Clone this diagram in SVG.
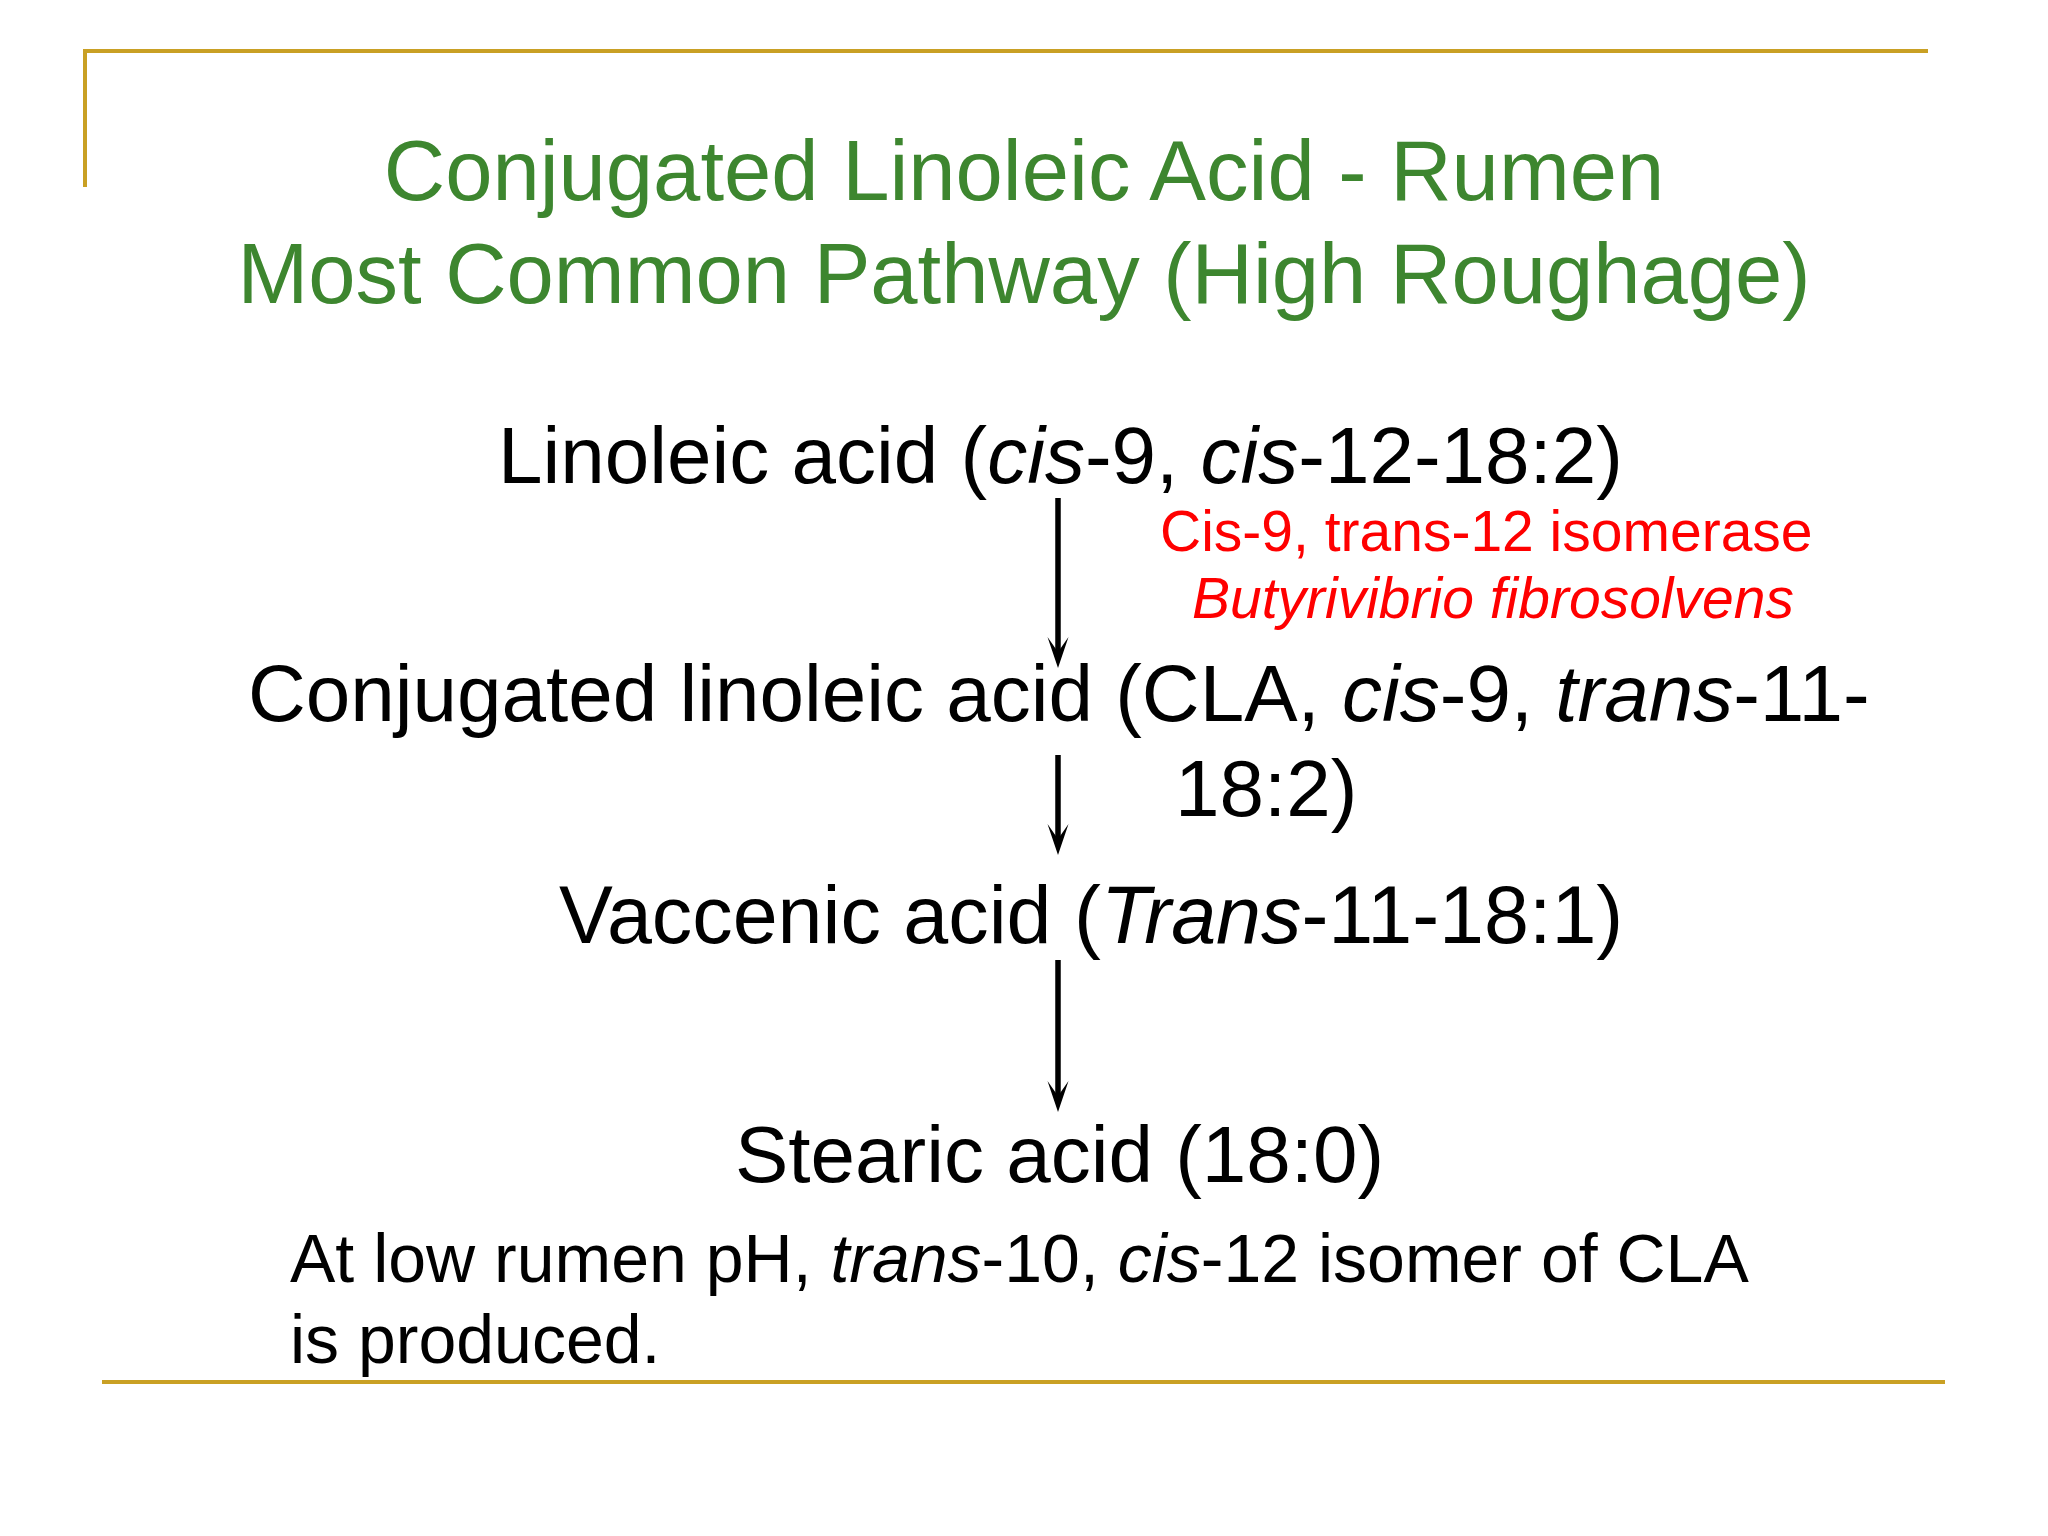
<svg xmlns="http://www.w3.org/2000/svg" width="2048" height="1536" viewBox="0 0 2048 1536">
<style>
.title{font-family:"Liberation Sans",Arial,sans-serif;font-size:85px;fill:#3d862f}
.body{font-family:"Liberation Sans",Arial,sans-serif;font-size:80px;fill:#000}
.note{font-family:"Liberation Sans",Arial,sans-serif;font-size:68px;fill:#000}
.red{font-family:"Liberation Sans",Arial,sans-serif;font-size:57px;fill:#ff0000}
.it{font-style:italic}
.rule{stroke:#c9a024;stroke-width:4;fill:none}
.conn{stroke:#000;stroke-width:5.5;fill:none}
</style>
<defs>
<marker id="ah" viewBox="-32 -12 34 24" markerWidth="34" markerHeight="24" refX="-14" refY="0" orient="auto" markerUnits="userSpaceOnUse">
<path d="M0,0 L-31,-10.5 L-16,0 L-31,10.5 Z" fill="#000"/>
</marker>
</defs>
<rect width="2048" height="1536" fill="#ffffff"/>
<g id="frame">
<path class="rule" d="M85,187 V51 H1928"/>
<path class="rule" d="M102,1382 H1945"/>
</g>
<g id="title">
<text class="title" x="1024" y="200" text-anchor="middle">Conjugated Linoleic Acid - Rumen</text>
<text class="title" x="1024" y="303" text-anchor="middle">Most Common Pathway (High Roughage)</text>
</g>
<g id="connectors">
<path class="conn" d="M1058,498 V654" marker-end="url(#ah)"/>
<path class="conn" d="M1058,755 V841" marker-end="url(#ah)"/>
<path class="conn" d="M1058,960 V1098" marker-end="url(#ah)"/>
</g>
<g id="node-linoleic">
<text class="body" x="498" y="483">Linoleic acid (<tspan class="it">cis</tspan>-9, <tspan class="it">cis</tspan>-12-18:2)</text>
</g>
<g id="label-isomerase">
<text class="red" x="1160" y="551">Cis-9, trans-12 isomerase</text>
<text class="red it" x="1192" y="618">Butyrivibrio fibrosolvens</text>
</g>
<g id="node-cla">
<text class="body" x="248" y="721">Conjugated linoleic acid (CLA, <tspan class="it">cis</tspan>-9, <tspan class="it">trans</tspan>-11-</text>
<text class="body" x="1175" y="816">18:2)</text>
</g>
<g id="node-vaccenic">
<text class="body" x="559" y="943" style="font-size:80.8px">Vaccenic acid (<tspan class="it">Trans</tspan>-11-18:1)</text>
</g>
<g id="node-stearic">
<text class="body" x="735" y="1182">Stearic acid (18:0)</text>
</g>
<g id="note">
<text class="note" x="290" y="1282">At low rumen pH, <tspan class="it">trans</tspan>-10, <tspan class="it">cis</tspan>-12 isomer of CLA</text>
<text class="note" x="290" y="1363">is produced.</text>
</g>
</svg>
